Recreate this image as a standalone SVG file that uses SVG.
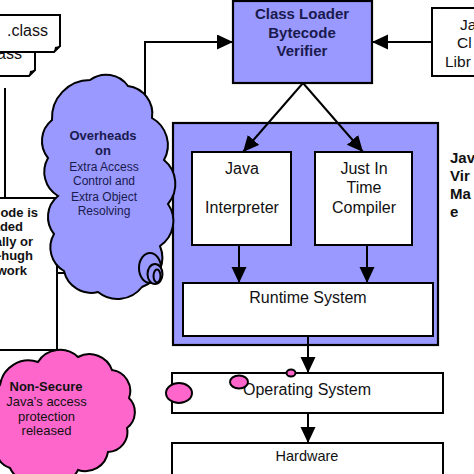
<svg xmlns="http://www.w3.org/2000/svg" width="474" height="474" viewBox="0 0 474 474">
<defs>
<style>
.box{fill:#ffffff;stroke:#000;stroke-width:2}
.pbox{fill:#9999ff;stroke:#000;stroke-width:2.2}
.t{font-family:"Liberation Sans",Arial,sans-serif;fill:#111}
.b{font-weight:bold}
.navy{fill:#1a1a4e}
.ln{fill:none;stroke:#000;stroke-width:2}
.cloudP{fill:#9999ff;stroke:#000;stroke-width:2}
.cloudK{fill:#ff66cc;stroke:#000;stroke-width:2}
</style>
<marker id="ah" markerUnits="userSpaceOnUse" markerWidth="16" markerHeight="16" refX="16" refY="7.5" orient="auto">
<path d="M0,0 L16,7.5 L0,15 Z" fill="#000"/>
</marker>
</defs>
<rect width="474" height="474" fill="#fff"/>

<g id="class-files">
<path class="box" d="M-2,30 H35 V70 L29,76 H-2 Z"/>
<path d="M35,70 L29,76 L30,71 Z" fill="#000"/>
<text class="t" x="22" y="59" font-size="16" text-anchor="end">ass</text>
<path class="box" d="M-2,15 H60 V46 L54,52 H-2 Z"/>
<path d="M60,46 L54,52 L55,47 Z" fill="#000"/>
<text class="t" x="7" y="36" font-size="16">.class</text>
</g>

<g id="code-box">
<rect class="box" x="-2" y="198" width="59" height="152"/>
<g class="t b" font-size="13" text-anchor="end">
<text x="38" y="217">ode is</text>
<text x="23" y="231">aded</text>
<text x="33" y="246">ally or</text>
<text x="33" y="260">-hugh</text>
<text x="27" y="275">work</text>
</g>
</g>

<g id="class-loader">
<rect class="pbox" x="233" y="1" width="139" height="82"/>
<g class="t b navy" font-size="15" text-anchor="middle">
<text x="302" y="19">Class Loader</text>
<text x="302" y="37.5">Bytecode</text>
<text x="302" y="56">Verifier</text>
</g>
</g>

<g id="class-library">
<rect class="box" x="432" y="8" width="50" height="68"/>
<g class="t" font-size="15.5">
<text x="460" y="30">Ja</text>
<text x="457" y="48">Cl</text>
<text x="445" y="67">Libr</text>
</g>
</g>

<g id="jvm">
<rect class="pbox" x="173" y="123" width="265" height="222"/>
<g class="t b" font-size="15">
<text x="450" y="163">Jav</text>
<text x="450" y="181">Vir</text>
<text x="450" y="199">Ma</text>
<text x="450" y="217">e</text>
</g>
</g>

<g id="interpreter">
<rect class="box" x="192" y="152" width="99" height="93"/>
<g class="t" font-size="16" text-anchor="middle">
<text x="242" y="174">Java</text>
<text x="242" y="213">Interpreter</text>
</g>
</g>

<g id="jit-compiler">
<rect class="box" x="315" y="152" width="97" height="93"/>
<g class="t" font-size="16" text-anchor="middle">
<text x="364" y="174">Just In</text>
<text x="364" y="193">Time</text>
<text x="364" y="213">Compiler</text>
</g>
</g>

<g id="runtime-system">
<rect class="box" x="183" y="283" width="250" height="53"/>
<text class="t" x="308" y="303" font-size="16" text-anchor="middle">Runtime System</text>
</g>

<g id="operating-system">
<rect class="box" x="172" y="373" width="271" height="40"/>
<text class="t" x="307" y="395" font-size="16" text-anchor="middle">Operating System</text>
</g>

<g id="hardware">
<rect class="box" x="172" y="443" width="271" height="40"/>
<text class="t" x="307" y="461" font-size="14.5" text-anchor="middle">Hardware</text>
</g>

<g id="connectors">
<line class="ln" x1="5" y1="88" x2="5" y2="198"/>
<polyline class="ln" points="57,273 145,273 145,42 233,42" marker-end="url(#ah)"/>
<line class="ln" x1="432" y1="42" x2="372" y2="42" marker-end="url(#ah)"/>
<line class="ln" x1="303" y1="83" x2="243" y2="152" marker-end="url(#ah)"/>
<line class="ln" x1="303" y1="83" x2="363" y2="152" marker-end="url(#ah)"/>
<line class="ln" x1="239" y1="245" x2="239" y2="283" marker-end="url(#ah)"/>
<line class="ln" x1="367" y1="245" x2="367" y2="283" marker-end="url(#ah)"/>
<line class="ln" x1="308" y1="336" x2="308" y2="373" marker-end="url(#ah)"/>
<line class="ln" x1="308" y1="413" x2="308" y2="443" marker-end="url(#ah)"/>
</g>

<g id="overheads-cloud">
<path class="cloudP" d="M52,120 A38 38 0 0 1 90,80 A27 27 0 0 1 128,86 A28 28 0 0 1 152,118 A31 31 0 0 1 164,160 A31 31 0 0 1 168,204 A30 30 0 0 1 160,246 A31 31 0 0 1 142,287 A31 31 0 0 1 98,292 A28 28 0 0 1 64,271 A27 27 0 0 1 54,234 A27 27 0 0 1 58,196 A28 28 0 0 1 48,158 A27 27 0 0 1 52,120 Z"/>
<ellipse cx="150" cy="268" rx="11" ry="15" class="cloudP"/>
<ellipse cx="155" cy="274" rx="7.5" ry="10" class="cloudP"/>
<ellipse cx="157" cy="276" rx="3.5" ry="6.5" class="cloudP"/>
<g class="t navy" text-anchor="middle">
<text x="103" y="139.5" font-size="13" font-weight="bold">Overheads</text>
<text x="103" y="154.5" font-size="13" font-weight="bold">on</text>
<text x="104" y="170.5" font-size="12">Extra Access</text>
<text x="104" y="184.5" font-size="12">Control and</text>
<text x="104" y="200.5" font-size="12">Extra Object</text>
<text x="104" y="214.5" font-size="12">Resolving</text>
</g>
</g>

<g id="non-secure-cloud">
<path class="cloudK" d="M0,385 A29 29 0 0 1 38,362 A26 26 0 0 1 78,357 A24 24 0 0 1 112,370 A21 21 0 0 1 129,398 A20 20 0 0 1 127,428 A20 20 0 0 1 108,452 A23 23 0 0 1 78,470 A22 22 0 0 1 45,478 A24 24 0 0 1 10,468 A20 20 0 0 1 -2,440 A40 40 0 0 1 0,385 Z"/>
<ellipse class="cloudK" cx="179" cy="393" rx="13" ry="10"/>
<ellipse class="cloudK" cx="239" cy="382" rx="9" ry="6.5"/>
<ellipse class="cloudK" cx="291" cy="373" rx="4.5" ry="3.5"/>
<g class="t" fill="#1e1e3c" font-size="13" text-anchor="middle">
<text x="46" y="391" font-weight="bold">Non-Secure</text>
<text x="46.5" y="406">Java’s access</text>
<text x="46.5" y="421">protection</text>
<text x="46.5" y="435">released</text>
</g>
</g>
</svg>
